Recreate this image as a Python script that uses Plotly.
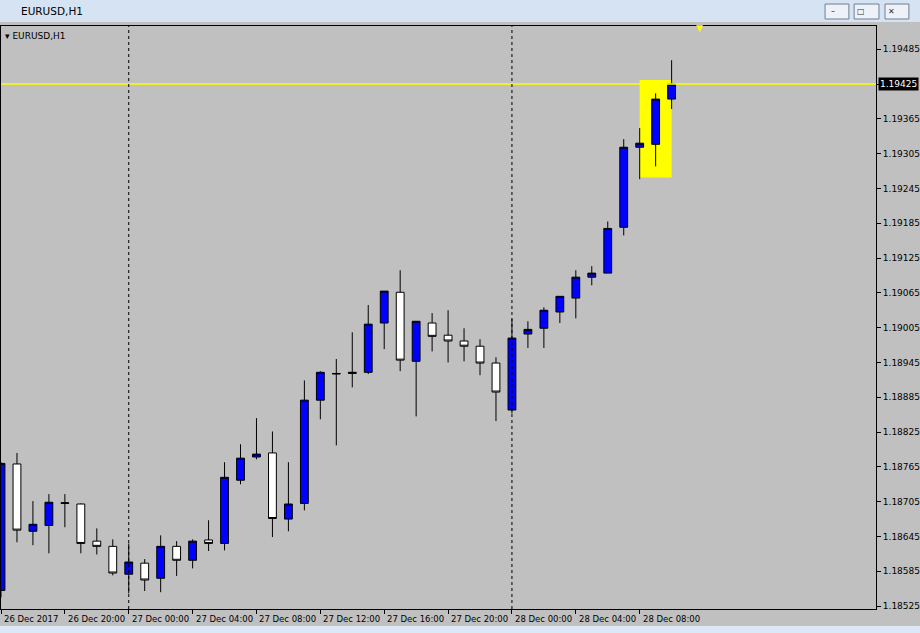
import plotly.graph_objects as go
import pandas as pd

# hourly EURUSD bars, 26 Dec 2017 16:00 -> 28 Dec 2017 10:00
opens = [1.18552, 1.18770, 1.18654, 1.18664, 1.18702, 1.18701, 1.18637, 1.18628,
         1.18580, 1.18599, 1.18573, 1.18628, 1.18604, 1.18639, 1.18633, 1.18742,
         1.18782, 1.18789, 1.18675, 1.18702, 1.18880, 1.18925, 1.18926, 1.18928,
         1.19013, 1.19066, 1.18947, 1.19013, 1.18992, 1.18982, 1.18973, 1.18944,
         1.18863, 1.18994, 1.19004, 1.19032, 1.19056, 1.19092, 1.19099, 1.19178,
         1.19316, 1.19321, 1.19399]
highs = [1.18773, 1.18789, 1.18706, 1.18718, 1.18718, 1.18702, 1.18659, 1.18640,
         1.18633, 1.18606, 1.18647, 1.18637, 1.18640, 1.18673, 1.18773, 1.18804,
         1.18849, 1.18826, 1.18773, 1.18914, 1.18930, 1.18951, 1.18997, 1.19044,
         1.19068, 1.19104, 1.19016, 1.19030, 1.19035, 1.19004, 1.18985, 1.18954,
         1.19020, 1.19016, 1.19040, 1.19059, 1.19104, 1.19111, 1.19188, 1.19330,
         1.19349, 1.19409, 1.19466]
lows = [1.18540, 1.18635, 1.18630, 1.18616, 1.18661, 1.18616, 1.18614, 1.18578,
        1.18547, 1.18551, 1.18549, 1.18577, 1.18590, 1.18620, 1.18621, 1.18735,
        1.18778, 1.18644, 1.18654, 1.18690, 1.18847, 1.18802, 1.18902, 1.18925,
        1.18968, 1.18930, 1.18852, 1.18964, 1.18945, 1.18947, 1.18923, 1.18844,
        1.18857, 1.18970, 1.18970, 1.19013, 1.19021, 1.19078, 1.19099, 1.19164,
        1.19261, 1.19283, 1.19382]
closes = [1.18771, 1.18656, 1.18666, 1.18704, 1.18703, 1.18633, 1.18628, 1.18582,
          1.18601, 1.18570, 1.18628, 1.18604, 1.18637, 1.18633, 1.18747, 1.18780,
          1.18787, 1.18676, 1.18701, 1.18880, 1.18928, 1.18926, 1.18928, 1.19011,
          1.19068, 1.18949, 1.19016, 1.18990, 1.18982, 1.18973, 1.18944, 1.18894,
          1.18987, 1.19002, 1.19035, 1.19059, 1.19092, 1.19099, 1.19176, 1.19316,
          1.19323, 1.19399, 1.19425]
times = pd.date_range("2017-12-26 16:00", periods=len(opens), freq="h")

tick_times = pd.date_range("2017-12-26 16:00", "2017-12-28 08:00", freq="4h")
tick_labels = ["26 Dec 2017", "26 Dec 20:00", "27 Dec 00:00", "27 Dec 04:00", "27 Dec 08:00",
               "27 Dec 12:00", "27 Dec 16:00", "27 Dec 20:00", "28 Dec 00:00", "28 Dec 04:00",
               "28 Dec 08:00"]
price_ticks = [1.18525, 1.18585, 1.18645, 1.18705, 1.18765, 1.18825, 1.18885, 1.18945,
               1.19005, 1.19065, 1.19125, 1.19185, 1.19245, 1.19305, 1.19365, 1.19425, 1.19485]
separators = ["2017-12-27 00:00", "2017-12-28 00:00"]
last_price = 1.19425
box_top, box_bottom = 1.19432, 1.19264

fig = go.Figure(go.Candlestick(
    x=times, open=opens, high=highs, low=lows, close=closes,
    increasing=dict(fillcolor="#0000FF", line=dict(color="black", width=1)),
    decreasing=dict(fillcolor="white", line=dict(color="black", width=1)),
    whiskerwidth=0, showlegend=False, hoverinfo="x+y",
))

x0 = pd.Timestamp("2017-12-26 16:00")
x1 = x0 + pd.Timedelta(hours=54.8)

# highlight box behind last bars
fig.add_shape(type="rect", x0=pd.Timestamp("2017-12-28 08:00"), x1=pd.Timestamp("2017-12-28 10:00"),
              y0=box_bottom, y1=box_top, fillcolor="#FFFF00", line_width=0, layer="below")
fig.add_hline(y=last_price, line=dict(color="#FFFF00", width=1.5))
for s in separators:
    fig.add_vline(x=pd.Timestamp(s), line=dict(color="black", width=1, dash="dot"))

# window chrome: title bar, buttons, bottom strip
chrome = [
    dict(type="rect", xref="paper", yref="paper", x0=-0.01, x1=1.06, y0=1.0069, y1=1.05,
         fillcolor="#D5E3F2", line_width=0),
    dict(type="rect", xref="paper", yref="paper", x0=-0.01, x1=1.06, y0=-0.06, y1=-0.029,
         fillcolor="#DCE8F5", line_width=0),
]
btn_x = [(0.9418, 0.969), (0.975, 1.0034), (1.0103, 1.0376)]
for a, b in btn_x:
    chrome.append(dict(type="rect", xref="paper", yref="paper", x0=a, x1=b, y0=1.012, y1=1.0377,
                       fillcolor="#EEF2F8", line=dict(color="#6F7F96", width=1)))

fig.update_layout(
    width=920, height=633,
    margin=dict(l=0, r=43, t=26, b=24),
    paper_bgcolor="#C0C0C0", plot_bgcolor="#C0C0C0",
    font=dict(family="DejaVu Sans", size=10, color="black"),
    xaxis=dict(range=[x0, x1], rangeslider=dict(visible=False), showgrid=False,
               tickvals=list(tick_times), ticktext=[""] * len(tick_times),
               ticks="outside", ticklen=4, tickcolor="black",
               showline=True, linecolor="black", mirror=True, zeroline=False),
    yaxis=dict(range=[1.18520, 1.19525], side="right", showgrid=False,
               tickvals=price_ticks,
               ticktext=["" if p == last_price else f"{p:.5f}" for p in price_ticks],
               ticks="outside", ticklen=4, tickcolor="black",
               showline=True, linecolor="black", mirror=True, zeroline=False,
               tickfont=dict(family="DejaVu Sans", size=9, color="black")),
    shapes=list(fig.layout.shapes) + chrome,
)

for t, lab in zip(tick_times, tick_labels):
    fig.add_annotation(x=t, y=0, yref="paper", text=lab, showarrow=False,
                       xanchor="left", yanchor="top", yshift=-3, xshift=1,
                       font=dict(family="DejaVu Sans", size=8.5))

fig.add_annotation(x=1, xref="paper", y=last_price, text=f"{last_price:.5f}",
                   showarrow=False, xanchor="left", bgcolor="black", borderpad=1,
                   font=dict(family="DejaVu Sans", size=9, color="white"), xshift=2)
fig.add_annotation(x=0, xref="paper", y=1, yref="paper", text="▾ EURUSD,H1", showarrow=False,
                   xanchor="left", yanchor="top", xshift=2, yshift=-3,
                   font=dict(family="DejaVu Sans", size=9))
fig.add_annotation(x=pd.Timestamp("2017-12-28 11:45"), y=1, yref="paper", text="▼", showarrow=False,
                   yanchor="top", yshift=5, font=dict(size=9, color="#FFFF00"))
fig.add_annotation(x=0, xref="paper", y=1.0257, yref="paper", text="EURUSD,H1", showarrow=False,
                   xanchor="left", yanchor="middle", xshift=18,
                   font=dict(family="DejaVu Sans", size=10.5))
for (a, b), sym in zip(btn_x, ["–", "□", "✕"]):
    fig.add_annotation(x=(a + b) / 2, xref="paper", y=1.0249, yref="paper", text=sym,
                       showarrow=False, yanchor="middle", font=dict(size=8, color="#333333"))

fig.write_html("out.html", config={"displayModeBar": False},
               post_script="document.body.style.margin='0px';")
